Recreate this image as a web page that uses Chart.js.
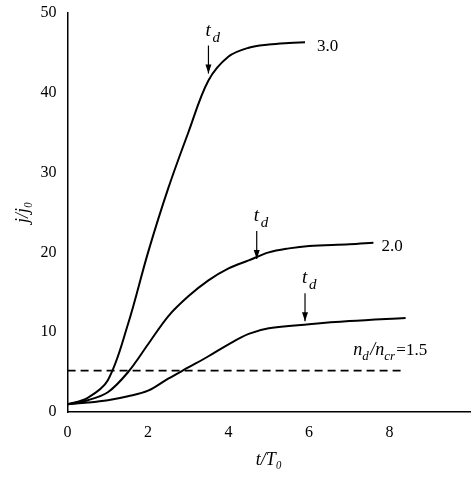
<!DOCTYPE html><html><head><script src="https://cdn.jsdelivr.net/npm/chart.js@4/dist/chart.umd.min.js"></script>
<style>body{margin:0;background:#fff}#w{width:474px;height:479px}</style></head><body><div id="w"><canvas id="c"></canvas></div><script>
const x30=[0,0.5,1,1.5,2,2.5,3,3.5,4,4.5,5,5.5,5.9];
const y30=[1,1.8,4,11,20,28,35,41.5,44.5,45.6,46,46.2,46.3];
const x20=[0,0.5,1,1.5,2,2.5,3,3.5,4,4.5,5,5.5,6,7,7.6];
const y20=[1,1.5,2.5,5,8.5,12,14.5,16.5,18,19,20,20.5,20.8,21,21.2];
const x15=[0,0.5,1,1.5,2,2.5,3,3.5,4,4.5,5,6,7,8.4];
const y15=[1,1.2,1.5,2,2.7,4.2,5.6,7,8.5,9.8,10.5,11,11.4,11.8];
const dashX=[0,8.4], dashY=[5.2,5.2];
const arrows=[[3.5,42],[4.7,18.8],[5.9,11]];
const mk=(xs,ys)=>xs.map((x,i)=>({x,y:ys[i]}));
const F='"Liberation Serif", serif';
const ann={id:'ann',afterDraw(ch){const c=ch.ctx,X=ch.scales.x,Y=ch.scales.y;c.save();c.fillStyle='#000';c.strokeStyle='#000';c.lineWidth=1.2;
for(const [ax,ay] of arrows){const px=X.getPixelForValue(ax),py=Y.getPixelForValue(ay)-3;c.beginPath();c.moveTo(px,py-28);c.lineTo(px,py);c.stroke();c.beginPath();c.moveTo(px,py);c.lineTo(px-3,py-9);c.lineTo(px+3,py-9);c.closePath();c.fill();
c.font='italic 19px '+F;c.fillText('t',px-3,py-38);c.font='italic 15px '+F;c.fillText('d',px+4,py-32);}
c.font='17px '+F;c.fillText('3.0',X.getPixelForValue(6.2),Y.getPixelForValue(45.2));c.fillText('2.0',X.getPixelForValue(7.8),Y.getPixelForValue(20.2));
let px=X.getPixelForValue(7.1),py=Y.getPixelForValue(7.1);c.font='italic 18px '+F;c.fillText('n',px,py);c.font='italic 13px '+F;c.fillText('d',px+9,py+5);c.font='italic 18px '+F;c.fillText('/n',px+17,py);c.font='italic 13px '+F;c.fillText('cr',px+31,py+5);c.font='17px '+F;c.fillText('=1.5',px+43,py);
c.restore();}};
const ds=(d,extra)=>Object.assign({data:d,borderColor:'#000',borderWidth:2,pointRadius:0,tension:0.35,fill:false},extra||{});
new Chart(document.getElementById('c'),{type:'line',data:{datasets:[ds(mk(x30,y30)),ds(mk(x20,y20)),ds(mk(x15,y15)),ds(mk(dashX,dashY),{borderDash:[8,5],borderWidth:1.8,tension:0})]},
options:{animation:false,responsive:true,maintainAspectRatio:false,layout:{padding:{top:7,right:4,left:8,bottom:4}},plugins:{legend:{display:false},tooltip:{enabled:false}},
scales:{x:{type:'linear',min:0,max:10,grid:{display:false,drawTicks:true},border:{color:'#000',width:1.5},ticks:{stepSize:2,color:'#000',font:{family:F,size:16},callback:v=>v<10?v:''},title:{display:true,text:'t/T₀',color:'#000',font:{family:F,size:18,style:'italic'}}},
y:{min:0,max:50,grid:{display:false},border:{color:'#000',width:1.5},ticks:{stepSize:10,color:'#000',font:{family:F,size:16}},title:{display:true,text:'j/j₀',color:'#000',font:{family:F,size:18,style:'italic'}}}}},plugins:[ann]});
</script></body></html>
